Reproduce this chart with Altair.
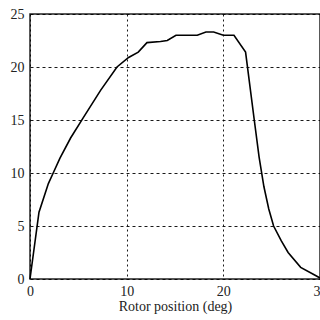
import altair as alt
import pandas as pd

deg = [0, 0.93, 1.9, 2.4, 3.1, 4.2, 5.5, 7.3, 9.0, 10.2, 11.2, 12.1, 13.5, 14.2, 15.1, 17.3, 18.2, 19.0, 20.0, 21.1, 22.3, 23.2, 23.7, 24.2, 24.7, 25.2, 26.0, 26.7, 28.0, 29.4, 30.0]
torque = [0, 6.3, 9.0, 10.0, 11.4, 13.3, 15.2, 17.8, 20.0, 20.9, 21.4, 22.3, 22.4, 22.5, 23.0, 23.0, 23.3, 23.3, 23.0, 23.0, 21.4, 15.0, 11.5, 8.7, 6.6, 5.0, 3.6, 2.5, 1.1, 0.4, 0.1]
x_ticks = [0, 10, 20, 30]
y_ticks = [0, 5, 10, 15, 20, 25]

df = pd.DataFrame({"deg": deg, "torque": torque})

chart = alt.Chart(df).mark_line(color="black", strokeWidth=1.6).encode(
    x=alt.X("deg:Q", scale=alt.Scale(domain=[0, 30], nice=False, zero=False),
            axis=alt.Axis(values=x_ticks, title="Rotor position (deg)", format="d",
                          labelFlush=False, labelBound=False, labelOverlap=False,
                          gridDash=[2, 3], labelPadding=5, titlePadding=1)),
    y=alt.Y("torque:Q", scale=alt.Scale(domain=[0, 25], nice=False),
            axis=alt.Axis(values=y_ticks, title=None, format="d", labelPadding=6,
                          gridDash=[3, 3])),
).properties(
    width=290, height=265,
    autosize=alt.AutoSizeParams(type="none"),
    padding={"left": 30, "top": 14, "right": 0, "bottom": 41},
).configure_axis(
    grid=True, gridColor="black", gridWidth=1, gridOpacity=0.9,
    ticks=False, domain=False,
    labelFont="Liberation Serif", labelFontSize=14, labelColor="#222",
    titleFont="Liberation Serif", titleFontSize=14, titleFontWeight="normal", titleColor="#222",
).configure_view(stroke="#222", strokeWidth=1.5)

chart.save("out.html", embed_options={"renderer": "svg", "actions": False})
